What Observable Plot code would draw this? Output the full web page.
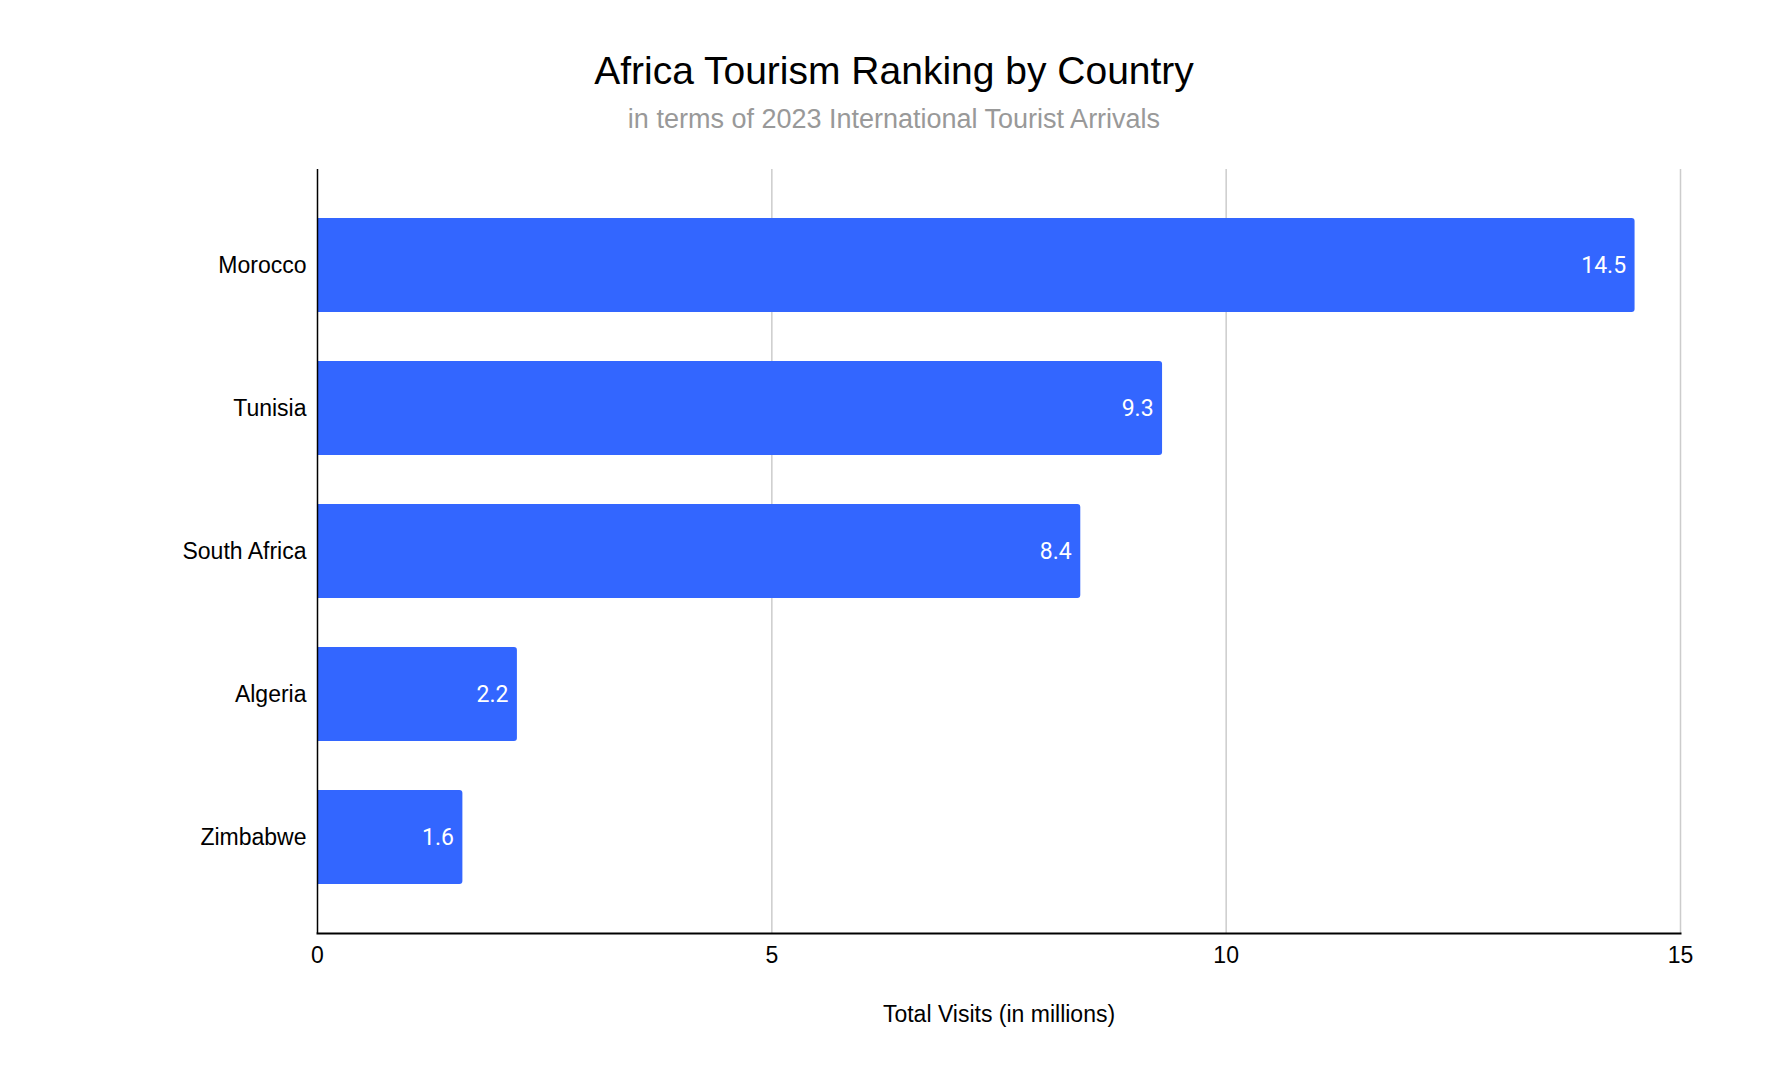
<!DOCTYPE html>
<html><head><meta charset="utf-8">
<script src="https://cdn.jsdelivr.net/npm/d3@7"></script>
<script src="https://cdn.jsdelivr.net/npm/@observablehq/plot@0.6"></script>
<style>
body{margin:0;background:#fff;}
#wrap{position:relative;width:1788px;height:1080px;font-family:"Liberation Sans",Arial,sans-serif;}
#title{position:absolute;left:0;width:1788px;top:51px;text-align:center;font-size:39px;line-height:39px;color:#000;z-index:2;}
#subtitle{position:absolute;left:0;width:1788px;top:106px;text-align:center;font-size:27px;line-height:27px;color:#999;z-index:2;}
#chart{position:absolute;left:0;top:0;}
</style></head>
<body><div id="wrap"><div id="title"></div><div id="subtitle"></div><div id="chart"></div></div>
<script>
const titleText = "Africa Tourism Ranking by Country";
const subtitleText = "in terms of 2023 International Tourist Arrivals";
const xAxisTitle = "Total Visits (in millions)";
const countries = ["Morocco", "Tunisia", "South Africa", "Algeria", "Zimbabwe"];
const visits = [14.5, 9.3, 8.4, 2.2, 1.6];
const xTicks = [0, 5, 10, 15];

const data = countries.map((c, i) => ({country: c, value: visits[i]}));
document.getElementById("title").textContent = titleText;
document.getElementById("subtitle").textContent = subtitleText;

const chart = Plot.plot({
  width: 1788, height: 1080,
  marginTop: 169, marginBottom: 147, marginLeft: 317, marginRight: 108,
  style: {fontFamily: '"Liberation Sans", Arial, sans-serif', fontSize: "23px", color: "#000", background: "transparent"},
  x: {domain: [0, 15], ticks: xTicks},
  y: {domain: countries, paddingInner: 0.345, paddingOuter: 0.34},
  marks: [
    Plot.gridX(xTicks.filter(t => t > 0), {stroke: "#ccc", strokeOpacity: 1, strokeWidth: 1.5}),
    Plot.barX(data, {x: "value", y: "country", fill: "#3366ff", rx: 3, insetLeft: -6, clip: true}),
    Plot.text(data, {x: "value", y: "country", text: d => String(d.value), textAnchor: "end", dx: -9, fill: "white", fontFamily: "Roboto", fontSize: 23}),
    Plot.ruleX([0], {stroke: "#000", strokeWidth: 1.5}),
    Plot.frame({anchor: "bottom", stroke: "#000", strokeWidth: 2}),
    Plot.axisY({tickSize: 0, tickPadding: 11, label: null, fontSize: 23}),
    Plot.axisX({ticks: xTicks, tickSize: 0, tickPadding: 13, label: null, fontSize: 23}),
    Plot.text([xAxisTitle], {frameAnchor: "bottom", dy: 81, lineAnchor: "middle", fontSize: 23})
  ]
});
document.getElementById("chart").appendChild(chart);
</script>
</body></html>
